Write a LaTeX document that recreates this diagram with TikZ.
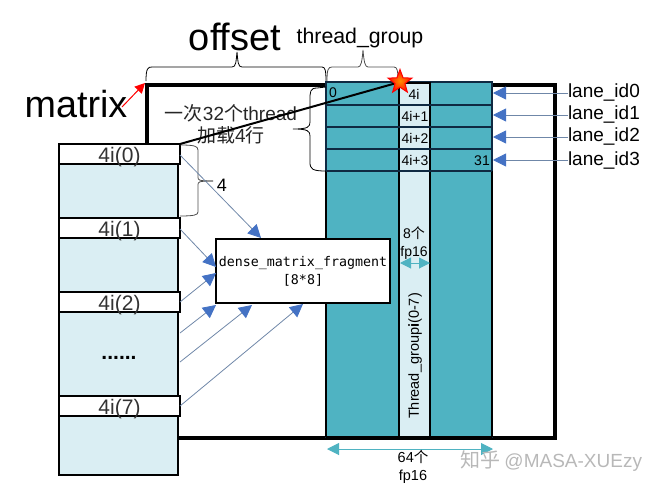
\documentclass[tikz,border=0pt]{standalone}
\usepackage{fontspec}
\setmainfont{Liberation Sans}
\newfontfamily\cjk{Noto Sans CJK SC}
\newfontfamily\monof{DejaVu Sans Mono}
\usetikzlibrary{arrows.meta,shapes.geometric,decorations.pathreplacing,calc}
\definecolor{tealc}{HTML}{4FB3C2}
\definecolor{lightc}{HTML}{DAEEF3}
\definecolor{navyc}{HTML}{0F2A42}
\definecolor{bluec}{HTML}{4472C4}
\definecolor{linec}{HTML}{6F87A8}
\tikzset{
  every node/.style={outer sep=0pt},
  txt/.style={inner sep=0pt,outer sep=0pt,text=black},
  rowbox/.style={draw=black,line width=2pt,fill=white,minimum width=121pt,minimum height=20pt,inner sep=0pt,font=\fontsize{21}{21}\selectfont,text=black!80},
  thin arrow/.style={draw=linec,line width=.8pt,-{Triangle[length=13pt,width=13pt,fill=bluec,color=bluec]}},
  brace/.style={draw=black!70,line width=.8pt},
  dim arrow/.style={draw=tealc,line width=1pt,{Triangle[length=12pt,width=12pt]}-{Triangle[length=12pt,width=12pt]}},
}
\newcommand{\rowtext}[1]{\raisebox{-8.5pt}[0pt][0pt]{#1}}
\begin{document}
\begin{tikzpicture}[x=1pt,y=-1pt]
\useasboundingbox (0,0) rectangle (656,493);
% outer matrix
\node[draw=black,line width=4.5pt,minimum width=408pt,minimum height=353pt,inner sep=0pt,anchor=north west] (matrixbox) at (147,85) {};
% teal block
\node[draw=navyc,line width=1.8pt,fill=tealc,minimum width=166pt,minimum height=355pt,inner sep=0pt,anchor=north west] (teal) at (326,82) {};
\draw[black,line width=4.5pt] (326,438)--(492,438);
\draw[black,line width=1.8pt] (326,171)--(326,437) (492,171)--(492,437);
\node[draw=black,line width=1.8pt,fill=lightc,minimum width=31pt,minimum height=354pt,inner sep=0pt,anchor=north west] (col) at (399,83) {};
% lanes
\foreach \n/\y in {l0/105,l1/127,l2/149,l3/171}{
  \draw[navyc,line width=1.6pt] (326,\y) -- (492,\y) coordinate (\n);
}
% left stack
\node[draw=black,line width=2pt,fill=lightc,minimum width=119pt,minimum height=331pt,inner sep=0pt,anchor=north west] (stack) at (59,144) {};
\node[rowbox,anchor=north west] (r0) at (59,144) {\rowtext{4i(0)}};
\node[rowbox,anchor=north west] (r1) at (59,218) {\rowtext{4i(1)}};
\node[rowbox,anchor=north west] (r2) at (59,292) {\rowtext{4i(2)}};
\node[rowbox,anchor=north west] (r7) at (59,396) {\rowtext{4i(7)}};
\node[txt,font=\bfseries\fontsize{21}{21}\selectfont] (dots) at (119,358) {......};
% dense box
\node[draw=black,line width=2pt,fill=white,minimum width=174pt,minimum height=64pt,inner sep=0pt,align=center,anchor=north west,font=\monof\fontsize{13.3}{18}\selectfont] (dense) at (216,239) {dense\_matrix\_fragment\\{}[8*8]};
% cell texts
\node[txt,font=\fontsize{14}{14}\selectfont] (c0) at (333,93) {0};
\node[txt,font=\fontsize{14}{14}\selectfont] (i0) at (414,94) {4i};
\node[txt,font=\fontsize{14}{14}\selectfont] (i1) at (415,116) {4i+1};
\node[txt,font=\fontsize{14}{14}\selectfont] (i2) at (415,138) {4i+2};
\node[txt,font=\fontsize{14}{14}\selectfont] (i3) at (415,160) {4i+3};
\node[txt,font=\fontsize{14}{14}\selectfont] (c31) at (482,161) {31};
\node[txt,align=center,font=\fontsize{14}{18}\selectfont] (f8) at (414,243) {8{\cjk 个}\\fp16};
\node[txt,rotate=90,font=\fontsize{14.5}{14.5}\selectfont] (tg) at (415,356) {Thread\_group\textbf{i}(0-7)};
% top labels
\node[txt,font=\fontsize{38}{38}\selectfont] (offset) at (235,37) {offset};
\node[txt,font=\fontsize{21.3}{21.3}\selectfont] (thr) at (360,38) {thread\_group};
\node[txt,font=\fontsize{37.7}{37.7}\selectfont] (mat) at (76,104) {matrix};
\node[txt,align=center,text=black!85,font=\fontsize{19}{22}\selectfont] (once) at (231,124) {{\cjk 一次}32{\cjk 个}thread\\{\cjk 加载}4{\cjk 行}};
\node[txt,font=\fontsize{18}{18}\selectfont] (four) at (222,185) {4};
% lane labels
\foreach \n/\t/\y in {a0/lane\_id0/93,a1/lane\_id1/115,a2/lane\_id2/137,a3/lane\_id3/160}{
  \node[txt,anchor=west,font=\fontsize{19}{19}\selectfont] (\n) at (568,\y) {\t};
  \coordinate (t\n) at (493,\y);
  \draw[thin arrow] (\n.west) -- (t\n);
}
% bottom
\coordinate (w0) at (327,449);\coordinate (w1) at (493,449);
\draw[dim arrow] (w0) -- (w1);
\node[txt,align=center,font=\fontsize{14.5}{18.5}\selectfont] (f64) at (413,467) {64{\cjk 个}\\fp16};
\coordinate (n0) at (400,263);\coordinate (n1) at (430,263);
\draw[dim arrow,{Triangle[length=11pt,width=11pt]}-{Triangle[length=11pt,width=11pt]}] (n0) -- (n1);
% braces
\draw[black,line width=.8pt] (146,81) .. controls (146,68) and (148,67) .. (152,67) -- (232,67) .. controls (236,67) and (236,62) .. (237,52) .. controls (238,62) and (238,67) .. (242,67) -- (322,67) .. controls (325,67) and (326,70) .. (326,81);
\draw[black!70,line width=.8pt] (327,81) .. controls (327,70) and (328,67) .. (332,67) -- (358,67) .. controls (361,67) and (362,62) .. (363,50) .. controls (364,62) and (365,67) .. (368,67) -- (394,67) .. controls (397,67) and (398,70) .. (398,81);
\draw[black,line width=.8pt] (326,87) -- (317,88) .. controls (310,88) and (310,92) .. (310,100) -- (310,122) .. controls (310,127) and (308,129) .. (293,129) .. controls (308,129) and (310,131) .. (310,136) -- (310,162) .. controls (310,169) and (312,171) .. (326,171);
\draw[brace] (180,145) .. controls (194,145) and (198,146) .. (198,150) -- (198,177) .. controls (198,180) and (198,181) .. (213,181);
\draw[brace] (213,181) .. controls (198,181) and (198,182) .. (198,185) -- (198,212) .. controls (198,215) and (194,216) .. (180,216);
% star and lines
\draw[black,line width=2pt] (r0.north east) -- (400,82) coordinate (stc);
\node[star,star points=5,star point ratio=2.4,inner color=orange!90!yellow,outer color=red!90!orange,draw=red,line width=1pt,minimum size=25pt,inner sep=0pt] (st) at (stc) {};
\coordinate (mcorner) at (145,83);
\coordinate (mfrom) at (122,107);
\draw[red,line width=1pt,-{Triangle[length=10pt,width=10pt]}] (mfrom) -- (mcorner);
% arrows to dense
\coordinate (e0) at (180,155);\coordinate (e1) at (180,229);\coordinate (e2) at (180,302);
\coordinate (e3) at (180,333);\coordinate (e4) at (180,362);\coordinate (e5) at (180,406);
\coordinate (h0) at (261,238);\coordinate (h1) at (216,267);\coordinate (h2) at (216,273);
\coordinate (h3) at (216,305);\coordinate (h4) at (252,305);\coordinate (h5) at (303,304);
\foreach \a/\b in {e0/h0,e1/h1,e2/h2,e3/h3,e4/h4,e5/h5}{\draw[thin arrow] (\a)--(\b);}
% watermark
\node[txt,text=black!28,font=\cjk\fontsize{20}{20}\selectfont,anchor=west] (wm) at (460,461) {知乎 \fontspec{Liberation Sans}\fontsize{19}{19}\selectfont @MASA-XUEzy};
\end{tikzpicture}
\end{document}
